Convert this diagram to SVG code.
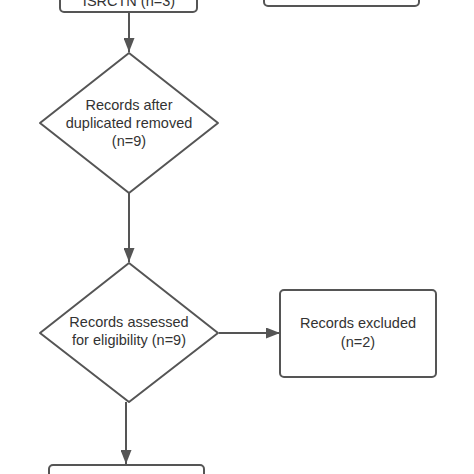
<svg xmlns="http://www.w3.org/2000/svg" width="474" height="474" viewBox="0 0 474 474">
<defs>
<marker id="ah" markerWidth="14" markerHeight="11" refX="14" refY="5.5" orient="auto" markerUnits="userSpaceOnUse" viewBox="0 0 14 11">
<path d="M0,0 L14,5.5 L0,11 Z" fill="#555"/>
</marker>
<style>
.shape{fill:#fff;stroke:#555;stroke-width:2;stroke-linejoin:round}
.t{font-family:"Liberation Sans",Arial,sans-serif;font-size:14.5px;fill:#333;text-anchor:middle}
.c{fill:none;stroke:#555;stroke-width:2}
</style>
</defs>
<rect width="474" height="474" fill="#fff"/>
<g id="connectors">
<path class="c" d="M129,12 V52" marker-end="url(#ah)"/>
<path class="c" d="M129,193 V262" marker-end="url(#ah)"/>
<path class="c" d="M219,333 H280" marker-end="url(#ah)"/>
<path class="c" d="M126,402 V464" marker-end="url(#ah)"/>
</g>
<g id="node-isrctn">
<rect class="shape" x="60" y="-30" width="137" height="42" rx="4"/>
<text class="t" x="129" y="6">ISRCTN (n=3)</text>
</g>
<g id="node-top-right">
<rect class="shape" x="264" y="-30" width="155" height="36" rx="4"/>
</g>
<g id="node-duplicates">
<path class="shape" d="M129,53 L218,123 L129,193 L40,123 Z"/>
<text class="t" x="129" y="110">Records after</text>
<text class="t" x="129" y="128">duplicated removed</text>
<text class="t" x="129" y="146">(n=9)</text>
</g>
<g id="node-eligibility">
<path class="shape" d="M129,263 L218,333 L129,402 L40,333 Z"/>
<text class="t" x="129" y="327">Records assessed</text>
<text class="t" x="129" y="345">for eligibility (n=9)</text>
</g>
<g id="node-excluded">
<rect class="shape" x="280" y="290" width="156" height="87" rx="4"/>
<text class="t" x="358" y="328">Records excluded</text>
<text class="t" x="358" y="347">(n=2)</text>
</g>
<g id="node-bottom">
<rect class="shape" x="49" y="465" width="155" height="40" rx="4"/>
</g>
</svg>
